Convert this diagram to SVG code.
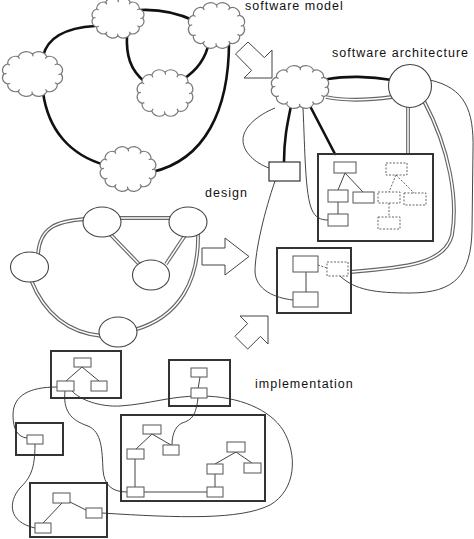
<svg xmlns="http://www.w3.org/2000/svg" xmlns:xlink="http://www.w3.org/1999/xlink" width="474" height="539" viewBox="0 0 474 539">
<style>
  .lbl{font-family:"Liberation Sans",Arial,sans-serif;font-size:12.5px;letter-spacing:1px;fill:#111}
  .cloud{fill:#fff;stroke:#7a7a7a;stroke-width:1.2}
  .thick{fill:none;stroke:#111;stroke-width:2.6;stroke-linecap:round}
  .thin{fill:none;stroke:#444;stroke-width:1}
  .dblo{fill:none;stroke:#666;stroke-width:3.8}
  .dbli{fill:none;stroke:#fff;stroke-width:1.5}
  .ell{fill:#fff;stroke:#444;stroke-width:1.1}
  .box{fill:none;stroke:#333;stroke-width:2}
  .sbox{fill:#fff;stroke:#333;stroke-width:1.2}
  .r{fill:#fff;stroke:#555;stroke-width:1}
  .dr{fill:#fff;stroke:#666;stroke-width:1;stroke-dasharray:2 1.5}
  .ln{fill:none;stroke:#444;stroke-width:1}
  .dl{fill:none;stroke:#666;stroke-width:1;stroke-dasharray:2 1.5}
  .arrow{fill:#fff;stroke:#444;stroke-width:1}
</style>
<defs>
  <g id="cloudshape">
    <path vector-effect="non-scaling-stroke" d="M26,0 A6.35,6.35 0 0 1 22.52,10 A7.2,7.2 0 0 1 13,17.32 A7.96,7.96 0 0 1 0,20 A7.96,7.96 0 0 1 -13,17.32 A7.2,7.2 0 0 1 -22.52,10 A6.35,6.35 0 0 1 -26,0 A6.35,6.35 0 0 1 -22.52,-10 A7.2,7.2 0 0 1 -13,-17.32 A7.96,7.96 0 0 1 0,-20 A7.96,7.96 0 0 1 13,-17.32 A7.2,7.2 0 0 1 22.52,-10 A6.35,6.35 0 0 1 26,0 Z"/>
    <path vector-effect="non-scaling-stroke" fill="none" d="M26,0 L23.6,0.6 M22.52,10 L20.4,8.7 M13,17.32 L11.9,15.2 M0,20 L-0.6,17.6 M-13,17.32 L-11.6,15.3 M-22.52,10 L-20.2,9.2 M-26,0 L-23.6,-0.6 M-22.52,-10 L-20.4,-8.8 M-13,-17.32 L-11.8,-15.2 M0,-20 L0.6,-17.6 M13,-17.32 L11.6,-15.3 M22.52,-10 L20.2,-9.2"/>
  </g>
  <path id="d1" d="M86 219 C55 221 40 228 38 254"/>
  <path id="d2" d="M118 218 L172 218"/>
  <path id="d3" d="M110 234 L139 264"/>
  <path id="d4" d="M186 234 L166 264"/>
  <path id="d5" d="M31 280 C45 315 70 333 102 336"/>
  <path id="d6" d="M198 234 C199 280 180 317 134 330"/>
  <path id="d7" d="M326 97 C345 101 370 100 392 97"/>
  <path id="d8" d="M408 104 L408 155"/>
  <path id="d9" d="M424 101 C450 150 458 200 452 235 C445 265 400 268 350 272"/>
</defs>

<g id="connectors">
  <!-- software model (thick) -->
  <path class="thick" d="M95 26 C62 28 47 40 43 56"/>
  <path class="thick" d="M140 10 C162 9 178 13 195 21"/>
  <path class="thick" d="M127 35 C126 55 130 70 145 82"/>
  <path class="thick" d="M209 42 C206 58 198 70 182 80"/>
  <path class="thick" d="M43 92 C48 130 70 155 105 165"/>
  <path class="thick" d="M229 42 C229 110 205 160 152 172"/>
  <!-- design (double) -->
  <use href="#d1" class="dblo"/><use href="#d1" class="dbli"/>
  <use href="#d2" class="dblo"/><use href="#d2" class="dbli"/>
  <use href="#d3" class="dblo"/><use href="#d3" class="dbli"/>
  <use href="#d4" class="dblo"/><use href="#d4" class="dbli"/>
  <use href="#d5" class="dblo"/><use href="#d5" class="dbli"/>
  <use href="#d6" class="dblo"/><use href="#d6" class="dbli"/>
  <!-- software architecture -->
  <path class="thick" d="M328 79 C345 76 370 76 392 80"/>
  <use href="#d7" class="dblo"/><use href="#d7" class="dbli"/>
  <use href="#d8" class="dblo"/><use href="#d8" class="dbli"/>
  <use href="#d9" class="dblo"/><use href="#d9" class="dbli"/>
  <path class="thick" d="M291 106 C287 125 284 140 284 162"/>
  <path class="thick" d="M310 106 L335 154"/>
  <path class="thin" d="M275 108 C258 115 243 127 243 140 C243 152 255 163 269 168"/>
  <path class="thin" d="M275 181 C265 210 255 250 255 272 C256 290 275 298 293 300"/>
  <path class="thin" d="M303 108 C305 150 305 195 312 210 C315 217 320 220 328 220"/>
  <path class="thin" d="M430 80 C465 88 474 110 473 150 L472 230 C471 275 455 293 410 293 C375 293 355 290 340 276"/>
  <!-- implementation -->
  <path class="thin" d="M57 387 C30 387 13 395 13 415 C13 430 18 437 27 438"/>
  <path class="thin" d="M65 391 C63 410 70 420 88 426 C102 432 102 450 103 470 C104 485 112 492 127 492"/>
  <path class="thin" d="M72 391 C80 400 100 407 120 406 C150 404 170 396 200 396 C240 396 270 410 283 430 C298 455 296 490 270 505 C240 520 180 518 102 513"/>
  <path class="thin" d="M198 398 C196 415 192 420 182 423 C174 427 172 437 172 445"/>
  <path class="thin" d="M35 444 C35 470 30 478 20 488 C8 502 8 522 35 528"/>
</g>

<!-- software model clouds -->
<g id="cloudA"><use href="#cloudshape" class="cloud" transform="translate(118,18) scale(0.95,0.9)"/></g>
<g id="cloudB"><use href="#cloudshape" class="cloud" transform="translate(216.5,25.5) scale(1.03,1.02)"/></g>
<g id="cloudC"><use href="#cloudshape" class="cloud" transform="translate(32.5,74) scale(1.1,1)"/></g>
<g id="cloudD"><use href="#cloudshape" class="cloud" transform="translate(165,93) scale(1.02,1.04)"/></g>
<g id="cloudE"><use href="#cloudshape" class="cloud" transform="translate(128,169) scale(1.02,1)"/></g>
<g id="label-model"><text class="lbl" x="245" y="10">software model</text></g>

<!-- arrows -->
<g id="arrow1"><polygon class="arrow" points="272,78 272,50 264.4,57.6 248,42 235.5,54 251.6,70.4 244,78"/></g>
<g id="arrow2"><polygon class="arrow" points="202,248 225,248 225,238 249,256.5 225,275 225,265 202,265"/></g>
<g id="arrow3"><polygon class="arrow" points="268,316 240,316 247.6,323.6 234.9,336.3 247.7,349.1 260.4,336.4 268,344"/></g>

<!-- software architecture -->
<g id="label-arch"><text class="lbl" x="332" y="57">software architecture</text></g>
<g id="cloudF"><use href="#cloudshape" class="cloud" transform="translate(300,87) scale(1.05,0.96)"/></g>
<g id="circleG"><circle class="ell" cx="410" cy="86" r="21.5"/></g>
<g id="boxI"><rect class="sbox" x="269" y="162" width="31" height="19"/></g>
<g id="boxH">
  <rect class="box" x="318" y="154" width="115" height="87"/>
  <path class="ln" d="M345 173 L338 190 M345 173 L363 192 M338 202 L338 214"/>
  <path class="dl" d="M396 175 L389 192 M396 175 L414 193 M389 203 L389 217"/>
  <rect class="r" x="334" y="162" width="22" height="11"/>
  <rect class="r" x="328" y="190" width="20" height="12"/>
  <rect class="r" x="353" y="192" width="21" height="11"/>
  <rect class="r" x="328" y="214" width="20" height="12"/>
  <rect class="dr" x="386" y="163" width="21" height="12"/>
  <rect class="dr" x="378" y="192" width="22" height="11"/>
  <rect class="dr" x="404" y="193" width="22" height="12"/>
  <rect class="dr" x="378" y="217" width="22" height="12"/>
</g>
<g id="box2">
  <rect class="box" x="277" y="248" width="74" height="65"/>
  <path class="ln" d="M306 272 L306 292"/>
  <path class="dl" d="M318 265 L327 268"/>
  <rect class="r" x="293" y="256" width="25" height="16"/>
  <rect class="dr" x="327" y="262" width="21" height="14"/>
  <rect class="r" x="293" y="292" width="25" height="15"/>
</g>

<!-- design -->
<g id="label-design"><text class="lbl" x="205" y="197">design</text></g>
<g id="ellJ"><ellipse class="ell" cx="102" cy="222" rx="19" ry="15"/></g>
<g id="ellK"><ellipse class="ell" cx="188" cy="222" rx="19" ry="15"/></g>
<g id="ellL"><ellipse class="ell" cx="29.5" cy="267" rx="19" ry="15"/></g>
<g id="ellM"><ellipse class="ell" cx="151" cy="275" rx="18.5" ry="15"/></g>
<g id="ellN"><ellipse class="ell" cx="118" cy="332" rx="19" ry="15"/></g>

<!-- implementation -->
<g id="label-impl"><text class="lbl" x="255" y="388">implementation</text></g>
<g id="P1">
  <rect class="box" x="51" y="351" width="70" height="47"/>
  <path class="ln" d="M82 367 L66 381 M82 367 L99 381"/>
  <rect class="r" x="74" y="358" width="17" height="9"/>
  <rect class="r" x="57" y="381" width="17" height="10"/>
  <rect class="r" x="91" y="381" width="16" height="10"/>
</g>
<g id="P2">
  <rect class="box" x="169" y="360" width="61" height="46"/>
  <path class="ln" d="M200 377 L198 389"/>
  <rect class="r" x="191" y="368" width="16" height="9"/>
  <rect class="r" x="191" y="388" width="16" height="10"/>
</g>
<g id="P3">
  <rect class="box" x="16" y="423" width="47" height="32"/>
  <rect class="r" x="27" y="435" width="16" height="9"/>
</g>
<g id="P4">
  <rect class="box" x="121" y="415" width="144" height="86"/>
  <path class="ln" d="M152 434 L136 449 M152 434 L171 445 M135 459 L135 487 M144 492 L207 492 M236 452 L215 464 M236 452 L252 463 M215 474 L215 487"/>
  <rect class="r" x="143" y="425" width="18" height="9"/>
  <rect class="r" x="127" y="449" width="17" height="10"/>
  <rect class="r" x="163" y="445" width="16" height="10"/>
  <rect class="r" x="127" y="487" width="17" height="10"/>
  <rect class="r" x="227" y="442" width="18" height="10"/>
  <rect class="r" x="207" y="464" width="16" height="10"/>
  <rect class="r" x="244" y="463" width="17" height="10"/>
  <rect class="r" x="207" y="487" width="16" height="10"/>
</g>
<g id="P5">
  <rect class="box" x="30" y="483" width="77" height="54"/>
  <path class="ln" d="M62 503 L43 523 M70 502 L86 510"/>
  <rect class="r" x="53" y="493" width="17" height="10"/>
  <rect class="r" x="86" y="508" width="16" height="10"/>
  <rect class="r" x="35" y="523" width="16" height="10"/>
</g>
</svg>
